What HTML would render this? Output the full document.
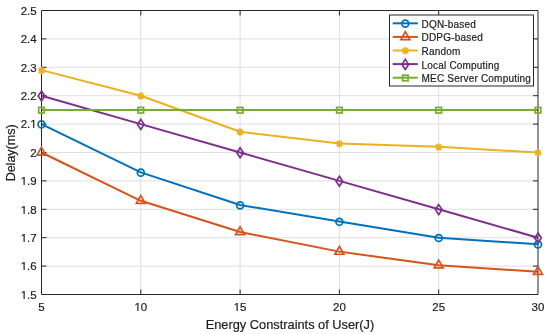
<!DOCTYPE html>
<html><head><meta charset="utf-8"><style>
html,body{margin:0;padding:0;background:#fff;}
svg{display:block;will-change:transform;}
text{font-family:"Liberation Sans",sans-serif;fill:#1e1e1e;stroke:#1e1e1e;stroke-width:0.2px;}
</style></head><body>
<svg width="550" height="334" viewBox="0 0 550 334">
<rect width="550" height="334" fill="#fff"/>
<path d="M140.80,10.5V294.5M240.10,10.5V294.5M339.40,10.5V294.5M438.70,10.5V294.5M41.5,266.10H538.0M41.5,237.70H538.0M41.5,209.30H538.0M41.5,180.90H538.0M41.5,152.50H538.0M41.5,124.10H538.0M41.5,95.70H538.0M41.5,67.30H538.0M41.5,38.90H538.0" stroke="#dfdfdf" stroke-width="1" fill="none"/>
<path d="M140.80,294.5V289.5M140.80,10.5V15.5M240.10,294.5V289.5M240.10,10.5V15.5M339.40,294.5V289.5M339.40,10.5V15.5M438.70,294.5V289.5M438.70,10.5V15.5M41.5,266.10H46.5M538.0,266.10H533.0M41.5,237.70H46.5M538.0,237.70H533.0M41.5,209.30H46.5M538.0,209.30H533.0M41.5,180.90H46.5M538.0,180.90H533.0M41.5,152.50H46.5M538.0,152.50H533.0M41.5,124.10H46.5M538.0,124.10H533.0M41.5,95.70H46.5M538.0,95.70H533.0M41.5,67.30H46.5M538.0,67.30H533.0M41.5,38.90H46.5M538.0,38.90H533.0" stroke="#262626" stroke-width="1" fill="none"/>
<polyline points="41.50,124.10 140.80,172.38 240.10,205.04 339.40,221.51 438.70,237.70 538.00,244.23" fill="none" stroke="#0072BD" stroke-width="2.0" stroke-linejoin="round"/>
<polyline points="41.50,152.50 140.80,200.78 240.10,232.02 339.40,251.62 438.70,265.25 538.00,271.78" fill="none" stroke="#D95319" stroke-width="2.0" stroke-linejoin="round"/>
<polyline points="41.50,70.14 140.80,95.70 240.10,131.77 339.40,143.41 438.70,146.82 538.00,152.50" fill="none" stroke="#EDB120" stroke-width="2.0" stroke-linejoin="round"/>
<polyline points="41.50,95.70 140.80,124.10 240.10,152.50 339.40,180.90 438.70,209.30 538.00,237.70" fill="none" stroke="#7E2F8E" stroke-width="2.0" stroke-linejoin="round"/>
<polyline points="41.50,109.90 140.80,109.90 240.10,109.90 339.40,109.90 438.70,109.90 538.00,109.90" fill="none" stroke="#77AC30" stroke-width="2.0" stroke-linejoin="round"/>
<path d="M41.5,10.5H538.0V294.5H41.5Z" stroke="#262626" stroke-width="1" fill="none"/>
<circle cx="41.50" cy="124.40" r="3.45" fill="none" stroke="#0072BD" stroke-width="1.75"/><circle cx="140.80" cy="172.68" r="3.45" fill="none" stroke="#0072BD" stroke-width="1.75"/><circle cx="240.10" cy="205.34" r="3.45" fill="none" stroke="#0072BD" stroke-width="1.75"/><circle cx="339.40" cy="221.81" r="3.45" fill="none" stroke="#0072BD" stroke-width="1.75"/><circle cx="438.70" cy="238.00" r="3.45" fill="none" stroke="#0072BD" stroke-width="1.75"/><circle cx="538.00" cy="244.53" r="3.45" fill="none" stroke="#0072BD" stroke-width="1.75"/>
<polygon points="41.50,147.30 46.00,155.15 37.00,155.15" fill="none" stroke="#D95319" stroke-width="1.7" stroke-linejoin="miter"/><polygon points="140.80,195.58 145.30,203.43 136.30,203.43" fill="none" stroke="#D95319" stroke-width="1.7" stroke-linejoin="miter"/><polygon points="240.10,226.82 244.60,234.67 235.60,234.67" fill="none" stroke="#D95319" stroke-width="1.7" stroke-linejoin="miter"/><polygon points="339.40,246.42 343.90,254.27 334.90,254.27" fill="none" stroke="#D95319" stroke-width="1.7" stroke-linejoin="miter"/><polygon points="438.70,260.05 443.20,267.90 434.20,267.90" fill="none" stroke="#D95319" stroke-width="1.7" stroke-linejoin="miter"/><polygon points="538.00,266.58 542.50,274.43 533.50,274.43" fill="none" stroke="#D95319" stroke-width="1.7" stroke-linejoin="miter"/>
<path d="M41.50,66.74V74.14M38.30,70.44H44.70M38.84,67.78L44.16,73.10M38.84,73.10L44.16,67.78" fill="none" stroke="#EDB120" stroke-width="1.8"/><path d="M140.80,92.30V99.70M137.60,96.00H144.00M138.14,93.34L143.46,98.66M138.14,98.66L143.46,93.34" fill="none" stroke="#EDB120" stroke-width="1.8"/><path d="M240.10,128.37V135.77M236.90,132.07H243.30M237.44,129.40L242.76,134.73M237.44,134.73L242.76,129.40" fill="none" stroke="#EDB120" stroke-width="1.8"/><path d="M339.40,140.01V147.41M336.20,143.71H342.60M336.74,141.05L342.06,146.38M336.74,146.38L342.06,141.05" fill="none" stroke="#EDB120" stroke-width="1.8"/><path d="M438.70,143.42V150.82M435.50,147.12H441.90M436.04,144.46L441.36,149.78M436.04,149.78L441.36,144.46" fill="none" stroke="#EDB120" stroke-width="1.8"/><path d="M538.00,149.10V156.50M534.80,152.80H541.20M535.34,150.14L540.66,155.46M535.34,155.46L540.66,150.14" fill="none" stroke="#EDB120" stroke-width="1.8"/>
<polygon points="41.50,91.00 44.80,96.00 41.50,101.00 38.20,96.00" fill="none" stroke="#7E2F8E" stroke-width="1.7" stroke-linejoin="miter"/><polygon points="140.80,119.40 144.10,124.40 140.80,129.40 137.50,124.40" fill="none" stroke="#7E2F8E" stroke-width="1.7" stroke-linejoin="miter"/><polygon points="240.10,147.80 243.40,152.80 240.10,157.80 236.80,152.80" fill="none" stroke="#7E2F8E" stroke-width="1.7" stroke-linejoin="miter"/><polygon points="339.40,176.20 342.70,181.20 339.40,186.20 336.10,181.20" fill="none" stroke="#7E2F8E" stroke-width="1.7" stroke-linejoin="miter"/><polygon points="438.70,204.60 442.00,209.60 438.70,214.60 435.40,209.60" fill="none" stroke="#7E2F8E" stroke-width="1.7" stroke-linejoin="miter"/><polygon points="538.00,233.00 541.30,238.00 538.00,243.00 534.70,238.00" fill="none" stroke="#7E2F8E" stroke-width="1.7" stroke-linejoin="miter"/>
<rect x="38.70" y="107.40" width="5.60" height="5.60" fill="none" stroke="#77AC30" stroke-width="1.7"/><rect x="138.00" y="107.40" width="5.60" height="5.60" fill="none" stroke="#77AC30" stroke-width="1.7"/><rect x="237.30" y="107.40" width="5.60" height="5.60" fill="none" stroke="#77AC30" stroke-width="1.7"/><rect x="336.60" y="107.40" width="5.60" height="5.60" fill="none" stroke="#77AC30" stroke-width="1.7"/><rect x="435.90" y="107.40" width="5.60" height="5.60" fill="none" stroke="#77AC30" stroke-width="1.7"/><rect x="535.20" y="107.40" width="5.60" height="5.60" fill="none" stroke="#77AC30" stroke-width="1.7"/>
<text x="41.50" y="311" font-size="11.5" text-anchor="middle">5</text>
<text x="140.80" y="311" font-size="11.5" text-anchor="middle">10</text>
<text x="240.10" y="311" font-size="11.5" text-anchor="middle">15</text>
<text x="339.40" y="311" font-size="11.5" text-anchor="middle">20</text>
<text x="438.70" y="311" font-size="11.5" text-anchor="middle">25</text>
<text x="538.00" y="311" font-size="11.5" text-anchor="middle">30</text>
<text x="36.7" y="299" font-size="11.5" text-anchor="end">1.5</text>
<text x="36.7" y="270" font-size="11.5" text-anchor="end">1.6</text>
<text x="36.7" y="242" font-size="11.5" text-anchor="end">1.7</text>
<text x="36.7" y="214" font-size="11.5" text-anchor="end">1.8</text>
<text x="36.7" y="185" font-size="11.5" text-anchor="end">1.9</text>
<text x="36.7" y="157" font-size="11.5" text-anchor="end">2</text>
<text x="36.7" y="128" font-size="11.5" text-anchor="end">2.1</text>
<text x="36.7" y="100" font-size="11.5" text-anchor="end">2.2</text>
<text x="36.7" y="72" font-size="11.5" text-anchor="end">2.3</text>
<text x="36.7" y="43" font-size="11.5" text-anchor="end">2.4</text>
<text x="36.7" y="15" font-size="11.5" text-anchor="end">2.5</text>
<rect x="134.58" y="309.95" width="2.60" height="1.4" fill="#fff"/>
<rect x="138.43" y="309.95" width="2.51" height="1.4" fill="#fff"/>
<rect x="233.88" y="309.95" width="2.60" height="1.4" fill="#fff"/>
<rect x="237.73" y="309.95" width="2.51" height="1.4" fill="#fff"/>
<rect x="20.89" y="297.95" width="2.60" height="1.4" fill="#fff"/>
<rect x="24.74" y="297.95" width="2.51" height="1.4" fill="#fff"/>
<rect x="20.89" y="268.95" width="2.60" height="1.4" fill="#fff"/>
<rect x="24.74" y="268.95" width="2.51" height="1.4" fill="#fff"/>
<rect x="20.89" y="240.95" width="2.60" height="1.4" fill="#fff"/>
<rect x="24.74" y="240.95" width="2.51" height="1.4" fill="#fff"/>
<rect x="20.89" y="212.95" width="2.60" height="1.4" fill="#fff"/>
<rect x="24.74" y="212.95" width="2.51" height="1.4" fill="#fff"/>
<rect x="20.89" y="183.95" width="2.60" height="1.4" fill="#fff"/>
<rect x="24.74" y="183.95" width="2.51" height="1.4" fill="#fff"/>
<rect x="30.48" y="126.95" width="2.60" height="1.4" fill="#fff"/>
<rect x="34.33" y="126.95" width="2.51" height="1.4" fill="#fff"/>
<text x="290" y="328.6" font-size="12.8" text-anchor="middle">Energy Constraints of User(J)</text>
<text transform="translate(14.9,152.9) rotate(-90)" font-size="12.5" text-anchor="middle">Delay(ms)</text>
<rect x="389.5" y="15.0" width="144.0" height="71.0" fill="#fff" stroke="#262626" stroke-width="1"/>
<path d="M392.7,23.30H417.8" stroke="#0072BD" stroke-width="2.0"/>
<circle cx="405.30" cy="23.60" r="3.45" fill="none" stroke="#0072BD" stroke-width="1.75"/>
<text x="421.5" y="27.70" font-size="10" letter-spacing="0.2">DQN-based</text>
<path d="M392.7,36.90H417.8" stroke="#D95319" stroke-width="2.0"/>
<polygon points="405.30,31.70 409.80,39.55 400.80,39.55" fill="none" stroke="#D95319" stroke-width="1.7" stroke-linejoin="miter"/>
<text x="421.5" y="41.30" font-size="10" letter-spacing="0.2">DDPG-based</text>
<path d="M392.7,50.50H417.8" stroke="#EDB120" stroke-width="2.0"/>
<path d="M405.30,47.10V54.50M402.10,50.80H408.50M402.64,48.14L407.96,53.46M402.64,53.46L407.96,48.14" fill="none" stroke="#EDB120" stroke-width="1.8"/>
<text x="421.5" y="54.90" font-size="10" letter-spacing="0.2">Random</text>
<path d="M392.7,64.10H417.8" stroke="#7E2F8E" stroke-width="2.0"/>
<polygon points="405.30,59.40 408.60,64.40 405.30,69.40 402.00,64.40" fill="none" stroke="#7E2F8E" stroke-width="1.7" stroke-linejoin="miter"/>
<text x="421.5" y="68.50" font-size="10" letter-spacing="0.2">Local Computing</text>
<path d="M392.7,77.70H417.8" stroke="#77AC30" stroke-width="2.0"/>
<rect x="402.50" y="75.20" width="5.60" height="5.60" fill="none" stroke="#77AC30" stroke-width="1.7"/>
<text x="421.5" y="82.10" font-size="10" letter-spacing="0.2">MEC Server Computing</text>
</svg></body></html>
